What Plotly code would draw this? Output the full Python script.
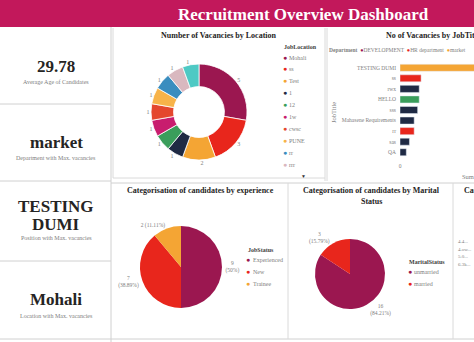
import plotly.graph_objects as go

W, H = 474, 342

# ---------------- data ----------------
header_title = "Recruitment Overview Dashboard"

kpi_values = ["29.78", "market", "TESTING<br>DUMI", "Mohali"]
kpi_labels = ["Average Age of Candidates", "Department with Max. vacancies",
              "Position with Max. vacancies", "Location with Max. vacancies"]

locations = ["Mohali", "ss", "Test", "1", "12", "1w", "cwsc", "PUNE", "rr", "rrr", "kk"]
location_vacancies = [5, 3, 2, 1, 1, 1, 1, 1, 1, 1, 1]
location_colors = ["#9B1750", "#E8261C", "#F4A534", "#1F2A44", "#3A9E5B", "#C81D6E",
                   "#E4472E", "#F7B349", "#3A8DBF", "#D9B8BF", "#4EC9C4"]

job_titles = ["TESTING DUMI", "ss", "rwx", "HELLO", "sss", "Mahasene Requirements",
              "rr", "sas", "QA"]
job_values = [40, 6.7, 6.1, 6.1, 5.6, 4.5, 4.5, 3.0, 2.0]
job_departments = ["market", "HR department", "IT", "Sales", "IT", "IT",
                   "HR department", "IT", "IT"]
dept_names = ["DEVELOPMENT", "HR department", "market", "IT", "Sales"]
dept_colors = ["#9B1750", "#E8261C", "#F4A534", "#1F2A44", "#3A9E5B"]

exp_status = ["Experienced", "New", "Trainee"]
exp_counts = [9, 7, 2]
exp_colors = ["#9B1750", "#E8261C", "#F4A534"]

marital_status = ["unmarried", "married"]
marital_counts = [16, 3]
marital_colors = ["#9B1750", "#E8261C"]

side_labels = ["4.4...", "4.ow...", "5.0...", "6.3k..."]

# ---------------- helpers ----------------
FONT = "Liberation Serif"
GREY = "#808080"
DARK = "#252423"
LINE = "#DADADA"


def px(x):
    return x / W


def py(y):
    return 1 - y / H


def dom(cx, cy, r):
    return dict(x=[px(cx - r), px(cx + r)], y=[py(cy + r), py(cy - r)])


annotations = []
shapes = []


def text(x, y, t, size=6, color=GREY, xanchor="center", yanchor="middle", angle=0):
    annotations.append(dict(x=px(x), y=py(y), xref="paper", yref="paper", text=t,
                            showarrow=False, xanchor=xanchor, yanchor=yanchor,
                            textangle=angle, borderpad=0,
                            font=dict(family=FONT, size=size, color=color)))


def line(x0, y0, x1, y1, color=LINE):
    shapes.append(dict(type="line", xref="paper", yref="paper",
                       x0=px(x0), y0=py(y0), x1=px(x1), y1=py(y1),
                       line=dict(color=color, width=1)))


def legend(x, y0, title, names, colors, step=12):
    text(x, y0, "<b>" + title + "</b>", size=6, color="#404040", xanchor="left")
    for i, (n, c) in enumerate(zip(names, colors)):
        yy = y0 + 10 + i * step
        text(x + 1.5, yy, "●", size=7, color=c)
        text(x + 5, yy, n, size=6, color=GREY, xanchor="left")


fig = go.Figure()

# header
shapes.append(dict(type="rect", xref="paper", yref="paper", x0=0, x1=1, y0=py(27), y1=1,
                   fillcolor="#C2185B", line=dict(width=0), layer="below"))
text(303.5, 14.5, "<b>" + header_title + "</b>", size=17, color="white")

# panel borders
line(111, 27, 111, 342, "#D0D0D0")
line(0, 104, 111, 104, "#D0D0D0")
line(0, 181, 111, 181, "#D0D0D0")
line(0, 261, 111, 261, "#D0D0D0")
line(0, 339, 474, 339, "#D0D0D0")
line(113, 28, 113, 178)
line(113, 178, 325, 178)
line(325, 28, 325, 181)
line(327, 28, 327, 181)
line(111, 183, 474, 183, "#D0D0D0")
line(288, 183, 288, 339)
line(453, 183, 453, 339)

# KPI cards
kpi_y = [66.7, 142.3, 215.5, 299]
kpi_sub_y = [82.3, 157.7, 237.5, 315.7]
for v, lab, yv, ys in zip(kpi_values, kpi_labels, kpi_y, kpi_sub_y):
    parts = v.split("<br>")
    n = len(parts)
    for j, p in enumerate(parts):
        text(56, yv + (j - (n - 1) / 2) * 18.5, "<b>" + p + "</b>", size=17, color=DARK)
    text(56, ys, lab, size=6, color=GREY)

# donut: vacancies by location
fig.add_trace(go.Pie(
    labels=locations, values=location_vacancies, hole=0.53, sort=False,
    direction="clockwise", rotation=0, domain=dom(199, 112, 48),
    marker=dict(colors=location_colors, line=dict(color="white", width=0.8)),
    textinfo="value", textposition="outside",
    outsidetextfont=dict(family=FONT, size=6, color=GREY),
    showlegend=False, hoverinfo="label+value"))
text(219, 35, "<b>Number of Vacancies by Location</b>", size=8, color=DARK)
legend(283, 47.5, "JobLocation", locations[:10], location_colors[:10], step=11.9)
text(303, 176.5, "▼", size=5, color="#333333")

# bar: vacancies by job title
color_map = dict(zip(dept_names, dept_colors))
fig.add_trace(go.Bar(
    x=job_values, y=job_titles, orientation="h",
    marker=dict(color=[color_map[d] for d in job_departments]),
    showlegend=False, hoverinfo="x+y"))
fig.update_xaxes(domain=[px(400), 1], range=[0, 23.5], tickvals=[0], showgrid=False,
                 zeroline=False, showline=False, ticks="", ticklabelstandoff=4,
                 tickfont=dict(family=FONT, size=5.5, color=GREY))
fig.update_yaxes(domain=[py(157.5), py(62.5)], autorange="reversed", showgrid=False,
                 zeroline=False, showline=False, ticks="", ticklabelstandoff=3,
                 tickfont=dict(family=FONT, size=5.5, color=GREY))
fig.update_layout(bargap=0.33)
text(385, 35, "<b>No of Vacancies by JobTitle and Department</b>", size=8, color=DARK,
     xanchor="left")
leg = "<b>Department</b> "
for n, c in zip(dept_names[:3], dept_colors[:3]):
    leg += " <span style='color:%s'>●</span>%s " % (c, n)
text(328, 50, leg, size=5.5, color=GREY, xanchor="left")
text(333, 113, "JobTitle", size=6.5, color=GREY, angle=-90)
text(461, 176, "Sum of Vacancies", size=6.5, color=GREY, xanchor="left")

# pie: experience
fig.add_trace(go.Pie(
    labels=exp_status, values=exp_counts, sort=False, direction="clockwise", rotation=0,
    domain=dom(181, 267, 41), marker=dict(colors=exp_colors),
    texttemplate=["%{value}<br>(%{percent:.2~%})", "%{value}<br>(%{percent:.2~%})",
                  "%{value} (%{percent:.2~%})"],
    textposition="outside", outsidetextfont=dict(family=FONT, size=5.5, color=GREY),
    showlegend=False, hoverinfo="label+value"))
text(200.5, 190, "<b>Categorisation of candidates by experience</b>", size=8, color=DARK)
legend(246.5, 250, "JobStatus", exp_status, exp_colors, step=11.9)

# pie: marital status
fig.add_trace(go.Pie(
    labels=marital_status, values=marital_counts, sort=False, direction="clockwise",
    rotation=0, domain=dom(350, 274, 35), marker=dict(colors=marital_colors),
    texttemplate="%{value}<br>(%{percent:.2~%})",
    textposition="outside", outsidetextfont=dict(family=FONT, size=5.5, color=GREY),
    showlegend=False, hoverinfo="label+value"))
text(371, 190, "<b>Categorisation of candidates by Marital</b>", size=8, color=DARK)
text(371, 201, "<b>Status</b>", size=8, color=DARK)
legend(408, 262, "MaritalStatus", marital_status, marital_colors, step=12)

# partially visible panel on the right
text(462.5, 190, "<b>Categorisation</b>", size=8, color=DARK, xanchor="left")
for lab, yy in zip(side_labels, [241, 249.3, 256, 264.3]):
    text(456.5, yy, lab, size=5, color=GREY, xanchor="left")

fig.update_layout(
    width=W, height=H, margin=dict(l=0, r=0, t=0, b=0),
    paper_bgcolor="white", plot_bgcolor="white",
    font=dict(family=FONT), showlegend=False,
    annotations=annotations, shapes=shapes)

fig.write_html("out.html")
